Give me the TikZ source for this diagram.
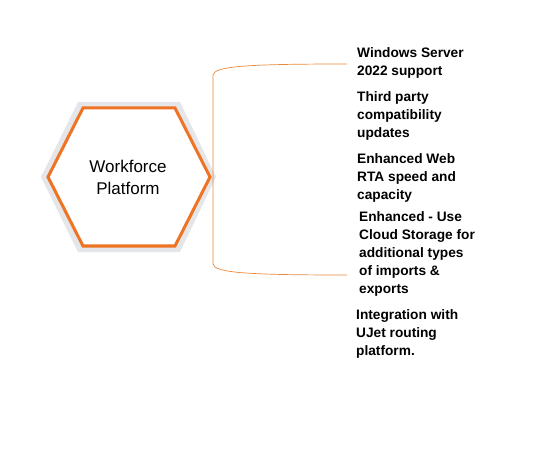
\documentclass[tikz,border=0pt]{standalone}
\usepackage{fontspec}
\setmainfont{Liberation Sans}
\definecolor{hexorange}{HTML}{EE7322}
\definecolor{braceorange}{HTML}{E8883A}
\definecolor{halogray}{HTML}{E4E6EA}
\tikzset{
  itemtext/.style={anchor=north west,inner sep=0pt,align=left,
    font=\fontsize{13.7}{18}\selectfont\bfseries},
}
\begin{document}
\begin{tikzpicture}[x=1pt,y=-1pt]

\useasboundingbox (0,0) rectangle (536,468);

% Hexagon
\fill[halogray] (41,177) -- (78,102) -- (180,102) -- (216,177)
  -- (180,252) -- (78,252) -- cycle;
\draw[hexorange,fill=white,line width=3pt,line join=miter]
  (48,177) -- (83,108) -- (175,108) -- (210,177)
  -- (175,246) -- (83,246) -- cycle;
\node[align=center,font=\fontsize{17}{22}\selectfont] (hex) at (128,177)
  {Workforce\\Platform};

% Bracket
\coordinate (top) at (347,64);
\coordinate (bot) at (347,275);
\draw[braceorange,line width=0.7pt]
  (top) .. controls (250,64) and (214,66) .. (213,75)
  -- (213,264)
  .. controls (214,273) and (250,275) .. (bot);

% Items
\node[itemtext] (item1) at (357,47) {Windows Server\\2022 support};
\node[itemtext] (item2) at (357,91) {Third party\\compatibility\\updates};
\node[itemtext] (item3) at (357,153) {Enhanced Web\\RTA speed and\\capacity};
\node[itemtext] (item4) at (359,211) {Enhanced - Use\\Cloud Storage for\\additional types\\of imports \&\\exports};
\node[itemtext] (item5) at (356,309) {Integration with\\UJet routing\\platform.};

\end{tikzpicture}
\end{document}
